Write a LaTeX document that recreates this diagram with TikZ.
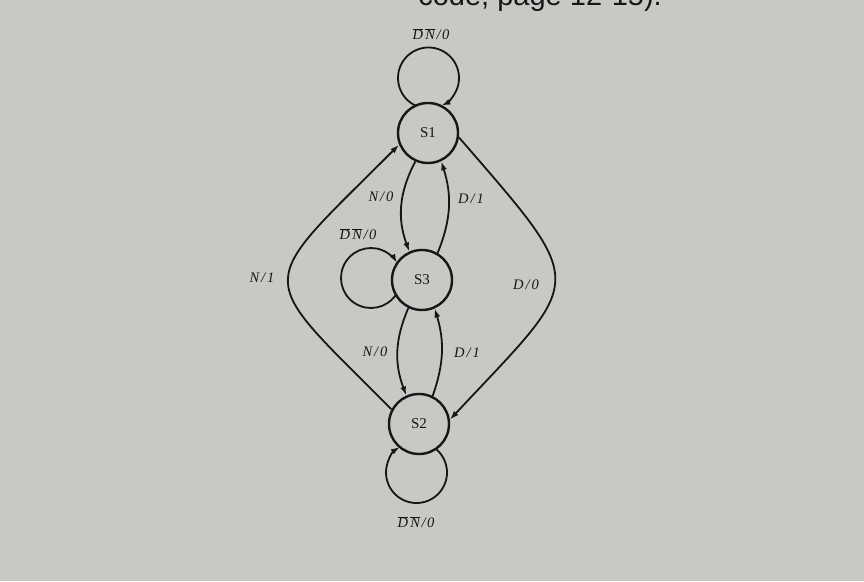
\documentclass[tikz,border=0pt]{standalone}
\usepackage{fontspec}
\setmainfont{Liberation Serif}
\newfontfamily\topfont{Liberation Sans}
\usetikzlibrary{arrows.meta}
\definecolor{bg}{RGB}{200,200,196}
\definecolor{ink}{RGB}{22,22,24}
\newcommand{\dnlab}{$\overline{\textit{D}}\,\overline{\textit{N}}$\textit{\kern1.5pt/\kern1.5pt0}}
\newcommand{\xlab}[2]{\textit{#1\kern2pt/\kern2pt#2}}
\begin{document}
\begin{tikzpicture}[x=1pt,y=1pt,
  state/.style={circle,draw=ink,line width=2.4pt,minimum size=60pt,inner sep=0pt,font=\fontsize{15}{17}\selectfont,text=ink},
  tr/.style={draw=ink,line width=1.8pt,-{Latex[length=9pt,width=6pt]}},
  lab/.style={font=\fontsize{14.5}{16}\selectfont,text=ink,inner sep=0pt}]
\fill[bg] (0,0) rectangle (864,581);
\useasboundingbox (0,0) rectangle (864,581);
\begin{scope}
\clip (0,0) rectangle (864,581);
\node[anchor=base east,inner sep=0pt,font=\topfont\fontsize{29}{32}\selectfont,text=ink] (toptext) at (662,575) {code, page 12-15).};
\end{scope}
% states
\node[state] (S1) at (428,448) {S1};
\node[state] (S3) at (422,301) {S3};
\node[state] (S2) at (419,157) {S2};
% loop centres
\coordinate (L1) at (428.5,503);
\coordinate (L3) at (371,303);
\coordinate (L2) at (416.5,108.5);
\draw[tr] ([shift={(245:30.5)}]L1) arc[start angle=245,end angle=-65,radius=30.5];
\draw[tr] ([shift={(-34:30)}]L3) arc[start angle=-34,end angle=-330,radius=30];
\draw[tr] ([shift={(51:30.5)}]L2) arc[start angle=51,end angle=-237,radius=30.5];
% inner transitions
\draw[tr] (S1.246) to[bend right=24] (S3.114);
\draw[tr] (S3.60) to[bend right=20] (S1.295);
\draw[tr] (S3.244) to[bend right=22] (S2.114);
\draw[tr] (S2.64) to[bend right=18] (S3.294);
% outer transitions
\draw[tr] (S2.152) .. controls (253,311) and (253,290) .. (S1.202);
\draw[tr] (S1.352) .. controls (591,291) and (585,306) .. (S2.8);
% labels
\node[lab] (l1) at (431,547) {\dnlab};
\node[lab] (l3) at (358,347) {\dnlab};
\node[lab] (l2) at (416,59) {\dnlab};
\node[lab] (n13) at (381,384) {\xlab{N}{0}};
\node[lab] (d31) at (471,382) {\xlab{D}{1}};
\node[lab] (n32) at (375,229) {\xlab{N}{0}};
\node[lab] (d23) at (467,228) {\xlab{D}{1}};
\node[lab] (n21) at (262,303) {\xlab{N}{1}};
\node[lab] (d12) at (526,296) {\xlab{D}{0}};
\end{tikzpicture}
\end{document}
